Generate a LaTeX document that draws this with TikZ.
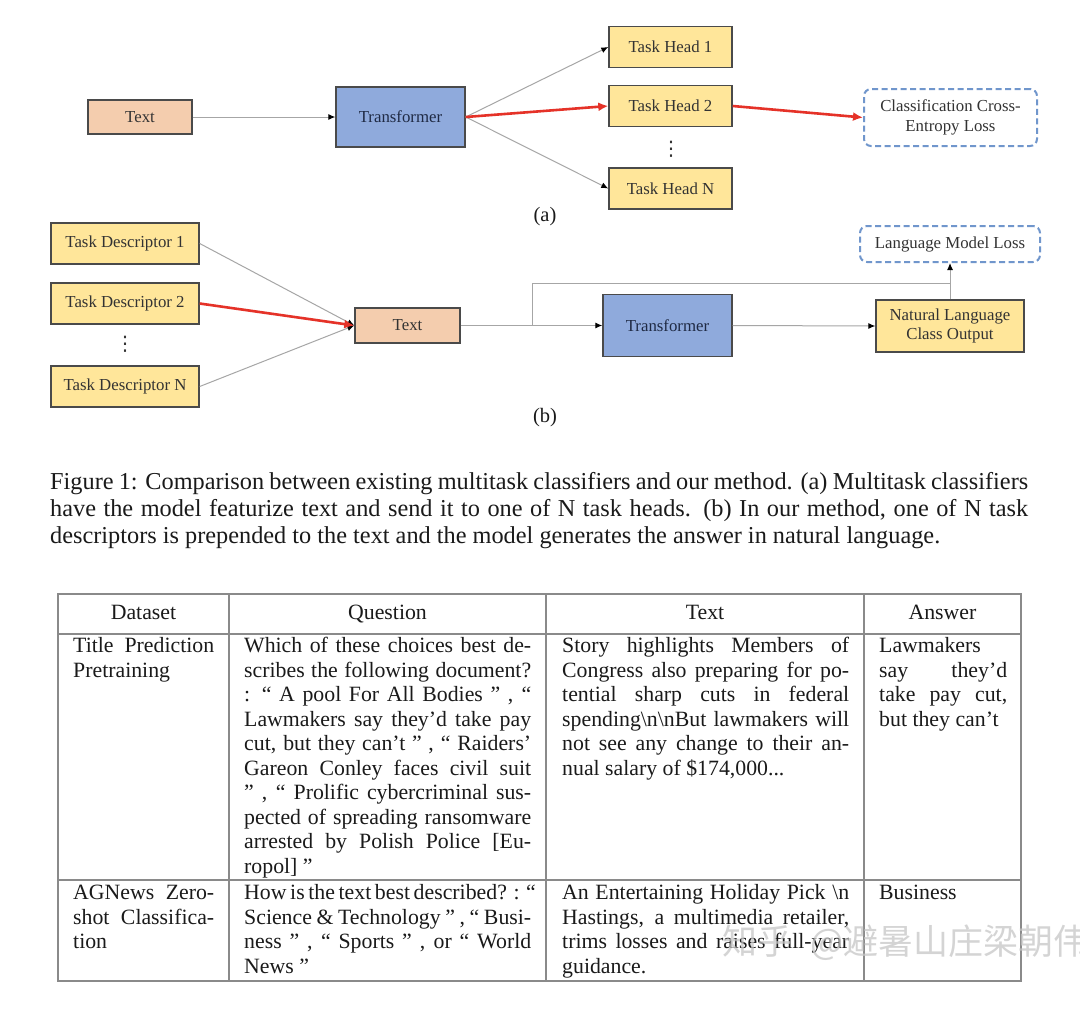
\documentclass[tikz,border=0pt]{standalone}
\usepackage{fontspec}
\setmainfont{Liberation Serif}
\newfontfamily\cjkwm{Noto Sans CJK SC}
\newfontfamily\symf{DejaVu Sans}
\usetikzlibrary{arrows.meta}
\definecolor{peach}{HTML}{F4CDAE}
\definecolor{tblue}{HTML}{8FAADC}
\definecolor{tyellow}{HTML}{FFE69A}
\definecolor{lossblue}{HTML}{7096CC}
\definecolor{redar}{HTML}{E53228}
\definecolor{boxline}{HTML}{4A4A4A}
\definecolor{navytext}{HTML}{1F2A44}
\definecolor{connline}{HTML}{A6A6A6}
\definecolor{ruleg}{HTML}{8A8A8A}
\definecolor{inktext}{HTML}{1A1A1A}
\newcommand{\jl}[2]{\makebox[#1][s]{#2}\\}
\newcommand{\tcell}[2]{\parbox[t]{#1}{\fontsize{21.8}{24.5}\selectfont #2}}
\begin{document}
\begin{tikzpicture}[x=1pt,y=-1pt,
  dbox/.style={draw=boxline, line width=1.4pt, inner sep=0pt, align=center,
    font=\fontsize{16.8}{19}\selectfont, text=black!80},
  peachbox/.style={dbox, fill=peach},
  bluebox/.style={dbox, fill=tblue, text=navytext},
  yelbox/.style={dbox, fill=tyellow},
  lossbox/.style={draw=lossblue, line width=2pt, dash pattern=on 6pt off 3.5pt,
    rounded corners=7pt, inner sep=0pt, align=center, fill=white,
    font=\fontsize{16.8}{20.5}\selectfont, text=black!80},
  conn/.style={draw=connline, line width=1pt, -{Latex[black,length=7pt,width=6pt]}},
  plainconn/.style={draw=connline, line width=1pt},
  redconn/.style={draw=redar, line width=2.6pt, -{Latex[length=10pt,width=9pt]}},
  dots/.style={inner sep=0pt, font=\symf\fontsize{20}{20}\selectfont, text=black!80},
  sublabel/.style={inner sep=0pt, font=\fontsize{20.5}{22}\selectfont, text=inktext},
  hdr/.style={inner sep=0pt, anchor=base, font=\fontsize{21.8}{24.5}\selectfont, text=inktext},
  cellt/.style={inner sep=0pt, anchor=base west, text=inktext},
  rulel/.style={draw=ruleg, line width=1.4pt}
]
\clip (0,0) rectangle (1080,1018);
\fill[white] (0,0) rectangle (1080,1018);

% ---------- (a) ----------
\node[peachbox, minimum width=104pt, minimum height=34pt] (ta) at (140,117) {Text};
\node[bluebox, minimum width=129pt, minimum height=60pt] (tfa) at (400.5,117) {Transformer};
\node[yelbox, minimum width=123pt, minimum height=41pt] (th1) at (670.5,47) {Task Head 1};
\node[yelbox, minimum width=123pt, minimum height=41pt] (th2) at (670.5,106) {Task Head 2};
\node[yelbox, minimum width=123pt, minimum height=41pt] (thn) at (670.5,188.5) {Task Head N};
\node[dots] (dota) at (671,149) {⋮};
\node[lossbox, minimum width=173pt, minimum height=57pt] (cel) at (950.5,117.5) {Classification Cross-\\Entropy Loss};
\node[sublabel] (la) at (545,217) {(a)};

\draw[conn] (ta.east) -- (tfa.west);
\draw[conn] (tfa.east) -- (th1.west);
\draw[conn] (tfa.east) -- (thn.west);
\draw[redconn] (tfa.east) -- (th2.west);
\draw[redconn] (th2.east) -- (cel.west);

% ---------- (b) ----------
\node[yelbox, minimum width=148pt, minimum height=41pt] (td1) at (125,243.5) {Task Descriptor 1};
\node[yelbox, minimum width=148pt, minimum height=41pt] (td2) at (125,303.5) {Task Descriptor 2};
\node[yelbox, minimum width=148pt, minimum height=41pt] (tdn) at (125,386.5) {Task Descriptor N};
\node[dots] (dotb) at (125,344) {⋮};
\node[peachbox, minimum width=105pt, minimum height=35pt] (tb) at (407.5,325.5) {Text};
\node[bluebox, minimum width=129pt, minimum height=62pt] (tfb) at (667.5,325.5) {Transformer};
\node[yelbox, minimum width=148pt, minimum height=52pt] (nlc) at (950,326) {Natural Language\\Class Output};
\node[lossbox, minimum width=180pt, minimum height=36pt] (lml) at (950,244) {Language Model Loss};
\node[sublabel] (lb) at (545,418) {(b)};

\draw[conn] (td1.east) -- (tb.west);
\draw[conn] (tdn.east) -- (tb.west);
\draw[redconn] (td2.east) -- (tb.west);
\draw[conn] (tb.east) -- (tfb.west);
\draw[conn] (tfb.east) -- (nlc.west);
\coordinate (br) at (532,325.5);
\coordinate (jn) at (950,283);
\draw[plainconn] (br) |- (jn);
\draw[conn] (nlc.north) -- (lml.south);

% ---------- caption ----------
\node[cellt, font=\fontsize{24.3}{27}\selectfont] (cap) at (50,489) {\parbox[t]{978pt}{%
\jl{978pt}{Figure 1: Comparison between existing multitask classifiers and our method. (a) Multitask classifiers}
\jl{978pt}{have the model featurize text and send it to one of N task heads. (b) In our method, one of N task}
descriptors is prepended to the text and the model generates the answer in natural language.}};

% ---------- table ----------
\draw[rulel] (58,594) rectangle (1021,981);
\draw[rulel] (58,634) -- (1021,634);
\draw[rulel] (58,880) -- (1021,880);
\draw[rulel] (229,594) -- (229,981);
\draw[rulel] (546,594) -- (546,981);
\draw[rulel] (864,594) -- (864,981);

\node[hdr] (h1) at (143.5,619.5) {Dataset};
\node[hdr] (h2) at (387.5,619.5) {Question};
\node[hdr] (h3) at (705,619.5) {Text};
\node[hdr] (h4) at (942.5,619.5) {Answer};

\node[cellt] (d1) at (73,652.5) {\tcell{141pt}{%
\jl{141pt}{Title Prediction}
Pretraining}};
\node[cellt] (q1) at (244,652.5) {\tcell{287pt}{%
\jl{287pt}{Which of these choices best de-}
\jl{287pt}{scribes the following document?}
\jl{287pt}{: “ A pool For All Bodies ” , “}
\jl{287pt}{Lawmakers say they’d take pay}
\jl{287pt}{cut, but they can’t ” , “ Raiders’}
\jl{287pt}{Gareon Conley faces civil suit}
\jl{287pt}{” , “ Prolific cybercriminal sus-}
\jl{287pt}{pected of spreading ransomware}
\jl{287pt}{arrested by Polish Police [Eu-}
ropol] ”}};
\node[cellt] (x1) at (562,652.5) {\tcell{287pt}{%
\jl{287pt}{Story highlights Members of}
\jl{287pt}{Congress also preparing for po-}
\jl{287pt}{tential sharp cuts in federal}
\jl{287pt}{spending\textbackslash n\textbackslash nBut lawmakers will}
\jl{287pt}{not see any change to their an-}
nual salary of \$174,000...}};
\node[cellt] (a1) at (879,652.5) {\tcell{128pt}{%
Lawmakers\\
\jl{128pt}{say they’d}
\jl{128pt}{take pay cut,}
but they can’t}};

\node[cellt] (d2) at (73,899.5) {\tcell{141pt}{%
\jl{141pt}{AGNews Zero-}
\jl{141pt}{shot Classifica-}
tion}};
\node[cellt] (q2) at (244,899.5) {\tcell{287pt}{%
\jl{287pt}{How is the text best described? : “}
\jl{287pt}{Science \& Technology ” , “ Busi-}
\jl{287pt}{ness ” , “ Sports ” , or “ World}
News ”}};
\node[cellt] (x2) at (562,899.5) {\tcell{287pt}{%
\jl{287pt}{An Entertaining Holiday Pick \textbackslash n}
\jl{287pt}{Hastings, a multimedia retailer,}
\jl{287pt}{trims losses and raises full-year}
guidance.}};
\node[cellt] (a2) at (879,899.5) {\tcell{128pt}{Business}};

% ---------- watermark ----------
\node[inner sep=0pt, anchor=west, text=gray!45, opacity=0.75,
  font=\cjkwm\fontsize{35}{35}\selectfont] (wm) at (722,943) {知乎\hspace{10pt} @避暑山庄梁朝伟};
\end{tikzpicture}
\end{document}
